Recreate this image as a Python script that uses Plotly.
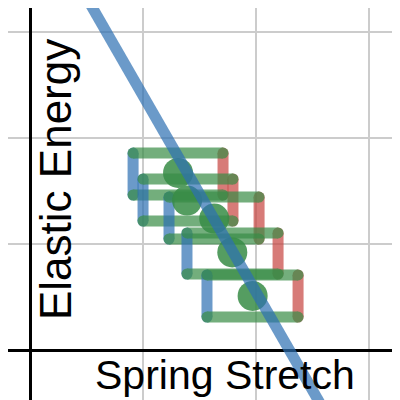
import plotly.graph_objects as go

rect_left = [0.912, 1.000, 1.230, 1.389, 1.566]
rect_right = [1.708, 1.796, 2.027, 2.195, 2.372]
rect_top = [1.858, 1.613, 1.443, 1.104, 0.708]
rect_bottom = [1.462, 1.217, 1.047, 0.717, 0.311]
dot_x = [1.31, 1.39, 1.63, 1.79, 1.97]
dot_y = [1.67, 1.41, 1.24, 0.92, 0.51]
line_x = [0.40, 2.70]
line_y = [3.51, -0.75]

BLUE, RED, GREEN = "#2d70b3", "#c74440", "#388c46"
fig = go.Figure()
for l, r, t, b in zip(rect_left, rect_right, rect_top, rect_bottom):
    fig.add_trace(go.Scatter(x=[l, l], y=[b, t], mode="lines+markers", line=dict(color=BLUE, width=11),
                             marker=dict(size=11, color=BLUE), opacity=0.7))
    fig.add_trace(go.Scatter(x=[r, r], y=[b, t], mode="lines+markers", line=dict(color=RED, width=11),
                             marker=dict(size=11, color=RED), opacity=0.7))
    fig.add_trace(go.Scatter(x=[l, r], y=[t, t], mode="lines+markers", line=dict(color=GREEN, width=11),
                             marker=dict(size=11, color=GREEN), opacity=0.7))
    fig.add_trace(go.Scatter(x=[l, r], y=[b, b], mode="lines+markers", line=dict(color=GREEN, width=11),
                             marker=dict(size=11, color=GREEN), opacity=0.7))
fig.add_trace(go.Scatter(x=dot_x, y=dot_y, mode="markers", marker=dict(size=30, color=GREEN), opacity=0.85))
fig.add_trace(go.Scatter(x=line_x, y=line_y, mode="lines", line=dict(color=BLUE, width=11), opacity=0.7))

fig.update_layout(
    width=400, height=400, margin=dict(l=0, r=0, t=0, b=0), showlegend=False,
    plot_bgcolor="white", paper_bgcolor="white",
    xaxis=dict(range=[-0.195, 3.345], dtick=1, showticklabels=False, gridcolor="#cccccc", gridwidth=1.5,
               zeroline=True, zerolinecolor="black", zerolinewidth=3),
    yaxis=dict(range=[-0.547, 3.226], dtick=1, showticklabels=False, gridcolor="#cccccc", gridwidth=1.5,
               zeroline=True, zerolinecolor="black", zerolinewidth=3),
    annotations=[
        dict(text="Elastic Energy", xref="paper", yref="paper", x=0.1175, y=0.57, textangle=-90,
             xanchor="center", yanchor="middle",
             showarrow=False, font=dict(size=44, color="black", family="Liberation Sans")),
        dict(text="Spring Stretch", xref="paper", yref="paper", x=0.5425, y=0.0825,
             xanchor="center", yanchor="middle",
             showarrow=False, font=dict(size=41, color="black", family="Liberation Sans")),
    ],
)
fig.write_html("out.html")
